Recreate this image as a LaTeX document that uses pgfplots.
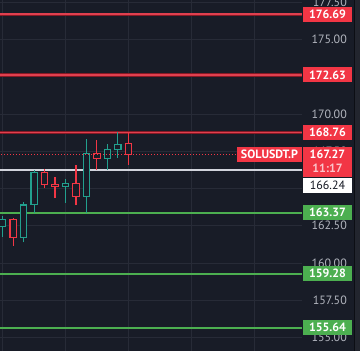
\documentclass[border=0pt]{standalone}
\usepackage{pgfplots}
\pgfplotsset{compat=1.18}
\usepackage{fontspec}
\setmainfont{PT Sans}
\definecolor{bg}{HTML}{181C27}
\definecolor{gridc}{HTML}{272B37}
\definecolor{upc}{HTML}{22A08E}
\definecolor{dnc}{HTML}{F23645}
\definecolor{lvred}{HTML}{E0404F}
\definecolor{lvreddark}{HTML}{861A25}
\definecolor{lvgreen}{HTML}{4CAF50}
\definecolor{lvwhite}{HTML}{D1D4DC}
\definecolor{boxred}{HTML}{F23645}
\definecolor{boxgreen}{HTML}{4CAF50}
\definecolor{ticktxt}{HTML}{B2B5BE}
\definecolor{stripe}{HTML}{22252E}
\definecolor{darkline}{HTML}{0C0E14}
\definecolor{pinktxt}{HTML}{FBC5CB}
\definecolor{darktxt}{HTML}{131722}

% candle: index, open, high, low, close, colour
\newcommand{\candle}[6]{%
  \pgfmathsetmacro{\xl}{#1-0.3}\pgfmathsetmacro{\xr}{#1+0.3}%
  \addplot[#6, line width=1.1pt] coordinates {(#1,#4) (#1,#3)};
  \addplot[draw=#6, fill=bg, line width=1.1pt, line join=miter] coordinates {(\xl,#2) (\xr,#2) (\xr,#5) (\xl,#5)} -- cycle;
}
\newcommand{\redlevel}[1]{%
  \addplot[lvreddark, line width=3.6pt] coordinates {(-1,#1) (30,#1)};
  \addplot[lvred, line width=1.7pt] coordinates {(-1,#1) (30,#1)};
}

\begin{document}
\begin{tikzpicture}
\path[use as bounding box] (0,0) rectangle (360pt,351pt);
\fill[bg] (0,0) rectangle (360pt,351pt);
\begin{scope}
\clip (0,0) rectangle (360pt,351pt);
\begin{axis}[
  at={(0pt,0pt)}, anchor=south west,
  scale only axis, width=302pt, height=351pt,
  xmin=-0.258, xmax=28.59, ymin=154.094, ymax=177.651,
  axis line style={draw=none}, tick style={draw=none},
  major tick length=0pt,
  xtick={0,6,12,18,24}, xticklabel=\empty,
  ytick={155,157.5,160,162.5,165,167.5,170,172.5,175,177.5},
  yticklabel pos=right,
  yticklabel style={anchor=east, xshift=45pt, inner sep=0pt, text=ticktxt,
    font=\fontsize{12}{14}\selectfont,
    /pgf/number format/.cd, fixed, fixed zerofill, precision=2, assume math mode=true},
  grid=major, grid style={draw=gridc, line width=0.8pt},
]
% level lines
\redlevel{176.69}
\redlevel{172.63}
\redlevel{168.76}
\addplot[lvwhite, line width=1.8pt] coordinates {(-1,166.24) (30,166.24)};
\addplot[lvgreen, line width=1.8pt] coordinates {(-1,163.37) (30,163.37)};
\addplot[lvgreen, line width=1.8pt] coordinates {(-1,159.28) (30,159.28)};
\addplot[lvgreen, line width=1.8pt] coordinates {(-1,155.64) (30,155.64)};
% candles
\candle{0}{162.44}{163.17}{161.77}{162.89}{upc}
\candle{1}{162.89}{162.99}{161.16}{161.71}{dnc}
\candle{2}{161.71}{164.11}{161.38}{163.89}{upc}
\candle{3}{163.94}{166.24}{163.34}{166.09}{upc}
\candle{4}{166.09}{166.29}{165.01}{165.28}{dnc}
\candle{5}{165.29}{165.75}{164.36}{165.12}{dnc}
\candle{6}{165.12}{165.62}{164.06}{165.36}{upc}
\candle{7}{165.36}{166.58}{163.89}{164.46}{dnc}
\candle{8}{164.46}{168.32}{163.38}{167.36}{upc}
\candle{9}{167.36}{168.26}{166.24}{167.01}{dnc}
\candle{10}{167.01}{167.97}{166.24}{167.64}{upc}
\candle{11}{167.64}{168.76}{167.05}{167.97}{upc}
\candle{12}{168.03}{168.76}{166.58}{167.27}{dnc}
% current price line
\addplot[dnc, line width=0.9pt, dash pattern=on 1pt off 2pt] coordinates {(-1,167.27) (30,167.27)};
\end{axis}
% right edge stripe
\fill[stripe] (355pt,0) rectangle (360pt,351pt);
\draw[darkline, line width=0.8pt] (354.6pt,0) -- (354.6pt,351pt);
% price labels
\tikzset{lab/.style={fill=#1, text=white, minimum width=49pt, minimum height=15pt,
  inner sep=0pt, font=\fontsize{12}{14}\selectfont\bfseries}}
\node[lab=boxred] at (327.5pt,336.68pt) {176.69};
\node[lab=boxred] at (327.5pt,276.19pt) {172.63};
\node[lab=boxred] at (327.5pt,218.52pt) {168.76};
\node[lab=boxgreen] at (327.5pt,138.35pt) {163.37};
\node[lab=boxgreen] at (327.5pt,77.41pt) {159.28};
\node[lab=boxgreen] at (327.5pt,23.34pt) {155.64};
% current price box
\fill[boxred] (303pt,174.3pt) rectangle (352pt,204.3pt);
\node[text=white, inner sep=0pt, font=\fontsize{12}{14}\selectfont\bfseries] at (327.5pt,196.5pt) {167.27};
\node[text=pinktxt, inner sep=0pt, font=\fontsize{12}{14}\selectfont\bfseries] at (327.5pt,182.6pt) {11:17};
\node[fill=white, text=darktxt, minimum width=49pt, minimum height=15pt, inner sep=0pt,
  font=\fontsize{12}{14}\selectfont] at (327.5pt,165.7pt) {166.24};
\node[fill=boxred, text=white, minimum width=64.4pt, minimum height=15.6pt, inner sep=0pt,
  font=\fontsize{12}{14}\selectfont\bfseries] at (269.5pt,196.5pt) {SOLUSDT.P};
\end{scope}
\end{tikzpicture}
\end{document}
